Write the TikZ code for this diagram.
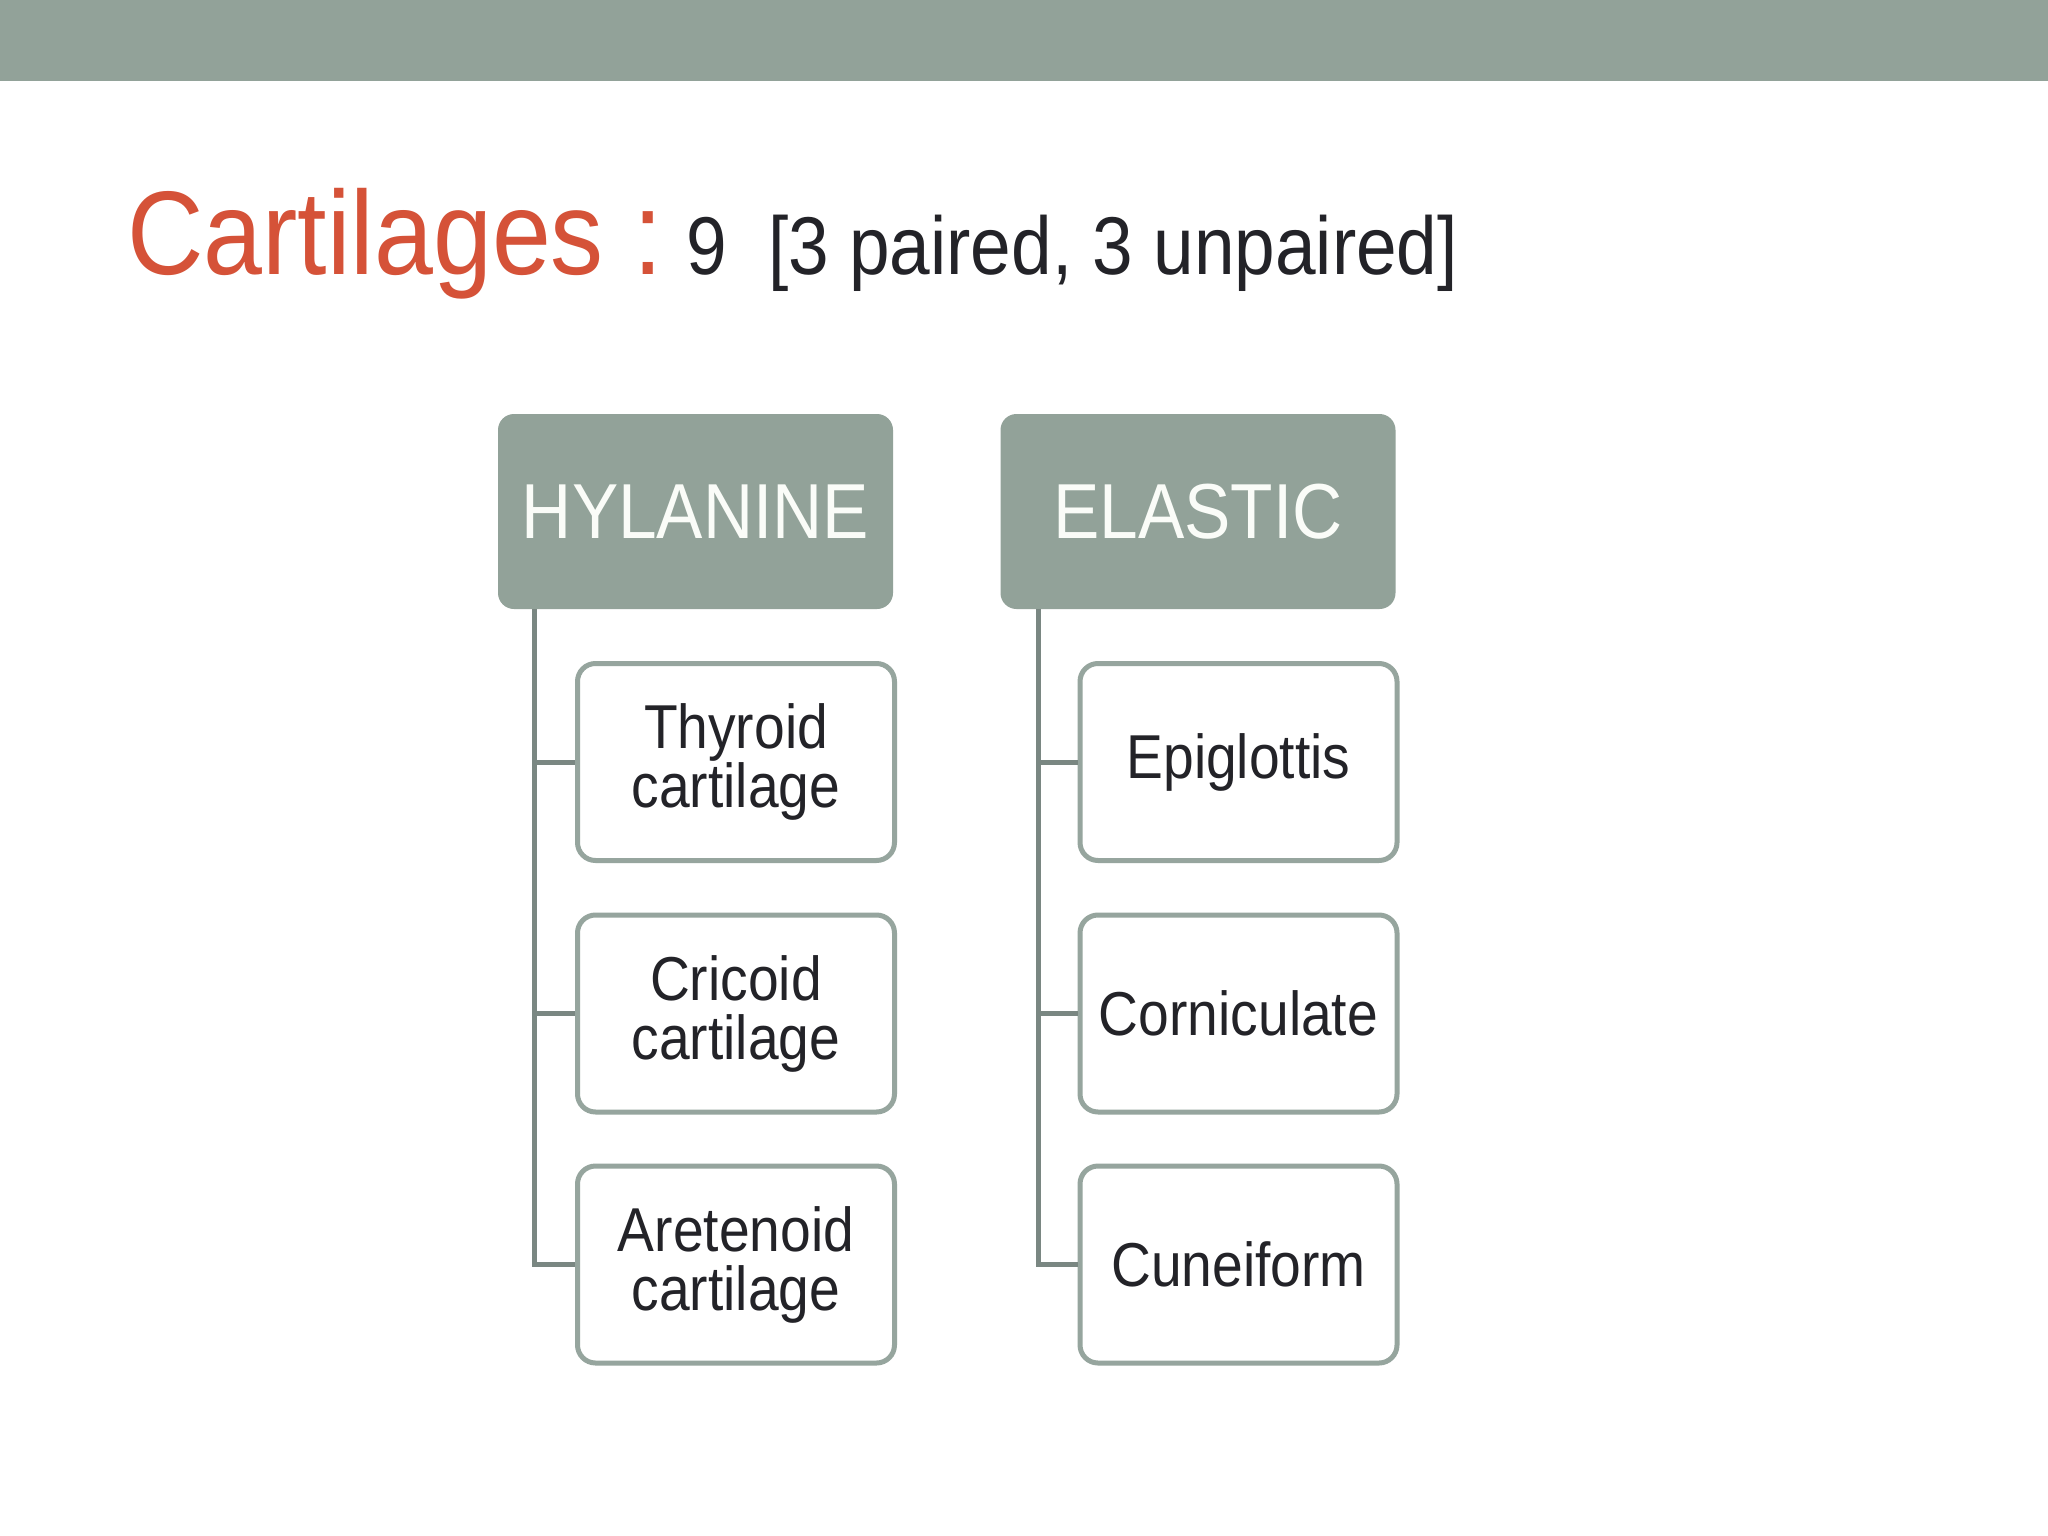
\documentclass[tikz,border=0pt]{standalone}
\usepackage{fontspec}
\setmainfont[FakeStretch=0.89]{Liberation Sans}
\definecolor{barcol}{RGB}{146,162,153}
\definecolor{boxline}{RGB}{150,165,158}
\definecolor{conncol}{RGB}{122,135,130}
\definecolor{titlered}{RGB}{213,82,56}
\definecolor{darktext}{RGB}{35,35,40}
\definecolor{headtext}{RGB}{250,252,248}
\tikzset{
  headbox/.style={rectangle, rounded corners=16pt, fill=barcol, draw=none,
    minimum width=395pt, minimum height=195pt, inner sep=0pt,
    text=headtext, font=\fontsize{78}{80}\selectfont},
  childbox/.style={rectangle, rounded corners=18pt, fill=white, draw=boxline,
    line width=5pt, minimum width=317pt, minimum height=197pt, inner sep=0pt,
    align=center, text=darktext, font=\fontsize{62}{59}\selectfont},
  conn/.style={draw=conncol, line width=5pt}
}
\begin{document}
\begin{tikzpicture}[x=1pt,y=-1pt]
\useasboundingbox (0,0) rectangle (2048,1536);
\fill[white] (0,0) rectangle (2048,1536);
\fill[barcol] (0,0) rectangle (2048,81);

\node[anchor=base west, inner sep=0pt, text=titlered, font=\fontsize{119}{120}\selectfont] (t1) at (127,274) {Cartilages :};
\node[anchor=base west, inner sep=0pt, text=darktext, font=\fontsize{82}{84}\selectfont] (t2) at (686,274) {9};
\node[anchor=base west, inner sep=0pt, text=darktext, font=\fontsize{82}{84}\selectfont] (t3) at (768,274) {[3 paired, 3 unpaired]};

\node[headbox] (hyl) at (695.5,511.5) {HYLANINE};
\node[headbox] (ela) at (1198,511.5) {ELASTIC};

\node[childbox] (a1) at (736,762) {Thyroid\\cartilage};
\node[childbox] (a2) at (736,1013.5) {Cricoid\\cartilage};
\node[childbox] (a3) at (736,1264.5) {Aretenoid\\cartilage};

\node[childbox] (b1) at (1238.5,762) {Epiglottis};
\node[childbox] (b2) at (1238.5,1013.5) {Corniculate};
\node[childbox] (b3) at (1238.5,1264.5) {Cuneiform};

\coordinate (hv) at ([xshift=37pt]hyl.south west);
\coordinate (ev) at ([xshift=38pt]ela.south west);

\draw[conn] (hv) |- (a3.west);
\draw[conn] (hv) |- (a2.west);
\draw[conn] (hv) |- (a1.west);
\draw[conn] (ev) |- (b3.west);
\draw[conn] (ev) |- (b2.west);
\draw[conn] (ev) |- (b1.west);
\end{tikzpicture}
\end{document}
